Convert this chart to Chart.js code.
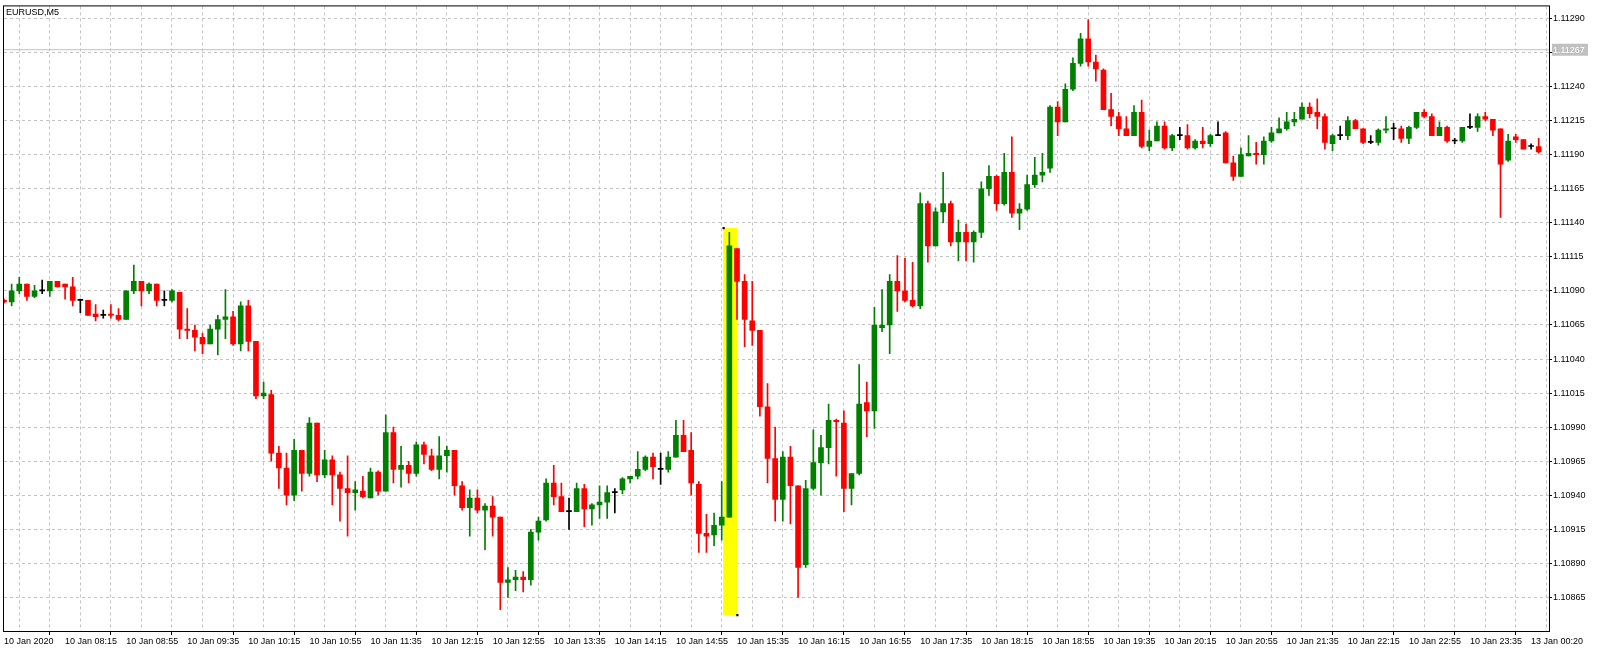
<!DOCTYPE html>
<html><head><meta charset="utf-8">
<script src="https://cdn.jsdelivr.net/npm/chart.js@4.4.0/dist/chart.umd.min.js"></script>
<style>html,body{margin:0;padding:0;background:#fff}#wrap{width:1600px;height:651px}</style>
</head><body><div id="wrap"><canvas id="c"></canvas></div>
<script>
const symbol = "EURUSD,M5";
const opens = [1.11083,1.11082,1.11090,1.11095,1.11086,1.11090,1.11090,1.11097,1.11095,1.11093,
1.11083,1.11083,1.11073,1.11072,1.11073,1.11072,1.11069,1.11090,1.11097,1.11090,
1.11095,1.11083,1.11083,1.11089,1.11062,1.11061,1.11056,1.11051,1.11062,1.11069,
1.11071,1.11051,1.11079,1.11053,1.11013,1.11014,1.10971,1.10960,1.10940,1.10973,
1.10956,1.10993,1.10955,1.10966,1.10955,1.10945,1.10942,1.10943,1.10938,1.10957,
1.10943,1.10986,1.10959,1.10962,1.10956,1.10977,1.10969,1.10959,1.10969,1.10973,
1.10947,1.10931,1.10938,1.10929,1.10932,1.10924,1.10876,1.10878,1.10880,1.10878,
1.10913,1.10922,1.10949,1.10939,1.10928,1.10928,1.10945,1.10930,1.10933,1.10935,
1.10942,1.10944,1.10952,1.10954,1.10959,1.10968,1.10959,1.10959,1.10968,1.10984,
1.10973,1.10948,1.10912,1.10911,1.10918,1.10924,1.11121,1.11097,1.11068,1.11061,
1.11005,1.10967,1.10937,1.10968,1.10947,1.10889,1.10945,1.10964,1.10975,1.10995,
1.10993,1.10945,1.10956,1.11008,1.11002,1.11063,1.11065,1.11097,1.11090,1.11083,
1.11079,1.11154,1.11123,1.11148,1.11154,1.11126,1.11133,1.11126,1.11133,1.11165,
1.11174,1.11154,1.11177,1.11147,1.11150,1.11168,1.11175,1.11180,1.11225,1.11214,
1.11238,1.11257,1.11275,1.11258,1.11252,1.11223,1.11218,1.11209,1.11204,1.11221,
1.11196,1.11200,1.11211,1.11195,1.11204,1.11204,1.11195,1.11200,1.11198,1.11204,
1.11206,1.11184,1.11174,1.11189,1.11191,1.11190,1.11200,1.11206,1.11209,1.11214,
1.11216,1.11225,1.11221,1.11218,1.11198,1.11204,1.11204,1.11215,1.11209,1.11199,
1.11199,1.11208,1.11209,1.11209,1.11202,1.11210,1.11221,1.11218,1.11204,1.11210,
1.11200,1.11200,1.11210,1.11210,1.11218,1.11216,1.11209,1.11186,1.11203,1.11201,
1.11196,1.11196];
const highs = [1.11084,1.11095,1.11100,1.11095,1.11094,1.11098,1.11097,1.11097,1.11095,1.11100,
1.11084,1.11083,1.11080,1.11076,1.11080,1.11077,1.11090,1.11109,1.11097,1.11096,
1.11095,1.11090,1.11091,1.11089,1.11077,1.11065,1.11059,1.11065,1.11072,1.11091,
1.11075,1.11082,1.11083,1.11053,1.11023,1.11017,1.10976,1.10971,1.10981,1.10973,
1.10997,1.10993,1.10973,1.10969,1.10957,1.10969,1.10950,1.10954,1.10960,1.10958,
1.10999,1.10990,1.10976,1.10965,1.10979,1.10979,1.10974,1.10983,1.10976,1.10973,
1.10950,1.10944,1.10944,1.10934,1.10939,1.10924,1.10887,1.10885,1.10884,1.10915,
1.10924,1.10952,1.10962,1.10949,1.10938,1.10949,1.10948,1.10934,1.10947,1.10947,
1.10945,1.10953,1.10954,1.10972,1.10969,1.10971,1.10971,1.10972,1.10995,1.10995,
1.10986,1.10950,1.10926,1.10927,1.10950,1.11133,1.11121,1.11102,1.11097,1.11061,
1.11022,1.10990,1.10972,1.10976,1.10947,1.10951,1.10988,1.10984,1.11007,1.10996,
1.11002,1.10956,1.11036,1.11023,1.11078,1.11091,1.11102,1.11116,1.11114,1.11111,
1.11162,1.11156,1.11151,1.11177,1.11156,1.11142,1.11139,1.11134,1.11170,1.11182,
1.11175,1.11191,1.11203,1.11154,1.11175,1.11188,1.11191,1.11226,1.11229,1.11242,
1.11261,1.11279,1.11289,1.11263,1.11253,1.11235,1.11221,1.11218,1.11226,1.11230,
1.11208,1.11214,1.11214,1.11205,1.11210,1.11212,1.11201,1.11210,1.11205,1.11214,
1.11207,1.11189,1.11195,1.11204,1.11199,1.11203,1.11210,1.11217,1.11221,1.11221,
1.11228,1.11228,1.11231,1.11220,1.11205,1.11211,1.11218,1.11216,1.11209,1.11204,
1.11209,1.11218,1.11213,1.11211,1.11211,1.11221,1.11223,1.11220,1.11214,1.11211,
1.11202,1.11210,1.11220,1.11220,1.11221,1.11216,1.11209,1.11205,1.11205,1.11201,
1.11198,1.11202];
const lows = [1.11081,1.11079,1.11088,1.11083,1.11085,1.11088,1.11086,1.11093,1.11084,1.11079,
1.11074,1.11072,1.11068,1.11070,1.11070,1.11068,1.11069,1.11088,1.11079,1.11088,
1.11079,1.11079,1.11082,1.11055,1.11055,1.11046,1.11044,1.11051,1.11043,1.11055,
1.11050,1.11046,1.11046,1.11011,1.11011,1.10965,1.10945,1.10933,1.10936,1.10943,
1.10954,1.10950,1.10953,1.10933,1.10921,1.10910,1.10929,1.10938,1.10938,1.10940,
1.10943,1.10949,1.10946,1.10949,1.10954,1.10963,1.10958,1.10952,1.10957,1.10940,
1.10929,1.10910,1.10927,1.10900,1.10910,1.10856,1.10865,1.10870,1.10869,1.10874,
1.10907,1.10921,1.10933,1.10928,1.10915,1.10928,1.10917,1.10918,1.10923,1.10923,
1.10927,1.10941,1.10949,1.10952,1.10958,1.10952,1.10948,1.10957,1.10968,1.10972,
1.10940,1.10898,1.10898,1.10903,1.10907,1.10924,1.11069,1.11049,1.11050,1.10998,
1.10949,1.10921,1.10921,1.10919,1.10865,1.10887,1.10944,1.10940,1.10963,1.10954,
1.10928,1.10933,1.10955,1.10983,1.10989,1.11060,1.11044,1.11075,1.11082,1.11078,
1.11077,1.11111,1.11123,1.11140,1.11123,1.11112,1.11112,1.11111,1.11129,1.11160,
1.11149,1.11153,1.11144,1.11135,1.11149,1.11166,1.11170,1.11177,1.11204,1.11214,
1.11237,1.11255,1.11255,1.11244,1.11223,1.11211,1.11204,1.11204,1.11204,1.11195,
1.11193,1.11200,1.11194,1.11193,1.11201,1.11194,1.11194,1.11195,1.11196,1.11204,
1.11184,1.11171,1.11174,1.11189,1.11183,1.11183,1.11199,1.11206,1.11208,1.11211,
1.11216,1.11217,1.11209,1.11194,1.11193,1.11201,1.11201,1.11209,1.11198,1.11198,
1.11197,1.11206,1.11201,1.11199,1.11198,1.11209,1.11217,1.11204,1.11204,1.11199,
1.11198,1.11199,1.11209,1.11207,1.11215,1.11204,1.11144,1.11185,1.11199,1.11194,
1.11194,1.11191];
const closes = [1.11082,1.11090,1.11095,1.11086,1.11090,1.11090,1.11097,1.11093,1.11093,1.11083,
1.11083,1.11072,1.11071,1.11072,1.11072,1.11069,1.11090,1.11097,1.11090,1.11095,
1.11083,1.11083,1.11090,1.11062,1.11061,1.11056,1.11051,1.11062,1.11069,1.11071,
1.11051,1.11079,1.11053,1.11013,1.11015,1.10971,1.10960,1.10940,1.10973,1.10956,
1.10993,1.10955,1.10966,1.10955,1.10945,1.10942,1.10944,1.10939,1.10957,1.10943,
1.10986,1.10959,1.10962,1.10956,1.10977,1.10970,1.10959,1.10969,1.10973,1.10947,
1.10931,1.10938,1.10929,1.10932,1.10924,1.10876,1.10878,1.10880,1.10878,1.10913,
1.10921,1.10949,1.10939,1.10928,1.10928,1.10945,1.10930,1.10933,1.10935,1.10942,
1.10942,1.10952,1.10954,1.10959,1.10968,1.10961,1.10959,1.10968,1.10984,1.10972,
1.10949,1.10912,1.10910,1.10918,1.10924,1.11123,1.11097,1.11069,1.11061,1.11005,
1.10967,1.10937,1.10968,1.10947,1.10887,1.10945,1.10964,1.10975,1.10995,1.10994,
1.10945,1.10956,1.11007,1.11002,1.11065,1.11065,1.11097,1.11090,1.11083,1.11079,
1.11154,1.11123,1.11148,1.11154,1.11126,1.11133,1.11126,1.11133,1.11165,1.11174,
1.11154,1.11177,1.11147,1.11150,1.11168,1.11175,1.11177,1.11225,1.11214,1.11238,
1.11257,1.11275,1.11258,1.11253,1.11223,1.11218,1.11209,1.11204,1.11221,1.11196,
1.11200,1.11211,1.11195,1.11204,1.11204,1.11195,1.11200,1.11198,1.11204,1.11204,
1.11184,1.11174,1.11190,1.11191,1.11190,1.11200,1.11206,1.11209,1.11214,1.11216,
1.11225,1.11220,1.11218,1.11199,1.11204,1.11204,1.11215,1.11209,1.11199,1.11199,
1.11208,1.11209,1.11209,1.11202,1.11210,1.11221,1.11218,1.11204,1.11210,1.11200,
1.11200,1.11210,1.11210,1.11218,1.11216,1.11208,1.11183,1.11200,1.11201,1.11194,
1.11196,1.11192];
const xTickLabels = ["10 Jan 2020","10 Jan 08:15","10 Jan 08:55","10 Jan 09:35","10 Jan 10:15","10 Jan 10:55","10 Jan 11:35","10 Jan 12:15","10 Jan 12:55","10 Jan 13:35","10 Jan 14:15","10 Jan 14:55","10 Jan 15:35","10 Jan 16:15","10 Jan 16:55","10 Jan 17:35","10 Jan 18:15","10 Jan 18:55","10 Jan 19:35","10 Jan 20:15","10 Jan 20:55","10 Jan 21:35","10 Jan 22:15","10 Jan 22:55","10 Jan 23:35","13 Jan 00:20"];
const yTickValues = [1.10865,1.10890,1.10915,1.10940,1.10965,1.10990,1.11015,1.11040,1.11065,1.11090,1.11115,1.11140,1.11165,1.11190,1.11215,1.11240,1.11265,1.11290];
const currentPrice = 1.11267;
const highlightIndex = 95.15;
const highlightRange = [1.10852, 1.11136];
const highlightCorners = [{x:94.25,y:1.11136},{x:96.05,y:1.10852}];

const GREEN='#008000', RED='#ff0000', BLACK='#000000';
const col = opens.map((o,i)=> closes[i]>o?GREEN:(closes[i]<o?RED:BLACK));
const wickData = opens.map((o,i)=>({x:i,y:[lows[i],highs[i]]}));
const bodyData = opens.map((o,i)=>({x:i,y:[Math.min(o,closes[i]),Math.max(o,closes[i])]}));
const XMAX = 202.35, YMIN = 1.108404, YMAX = 1.112988;

const framePlugin = {
  id:'frame',
  afterDraw(chart){
    const {ctx, chartArea:a, scales} = chart;
    ctx.save();
    ctx.strokeStyle='#000'; ctx.lineWidth=1;
    ctx.strokeRect(a.left-0.5, a.top-0.5, a.right-a.left+1, a.bottom-a.top+1);
    ctx.fillStyle='#000'; ctx.font='9px "Liberation Sans"'; ctx.textBaseline='top'; ctx.textAlign='left';
    ctx.fillText(symbol, a.left+2, a.top+2);
    const py = scales.y.getPixelForValue(currentPrice);
    ctx.fillStyle='#c0c0c0';
    ctx.fillRect(a.right+3, py-6, 36, 12);
    ctx.fillStyle='#ffffff'; ctx.textBaseline='middle';
    ctx.fillText(currentPrice.toFixed(5), a.right+4, py+0.5);
    ctx.restore();
  }
};

new Chart(document.getElementById('c'), {
  type:'bar',
  data:{datasets:[
    {type:'line', data:[{x:0,y:currentPrice},{x:XMAX,y:currentPrice}], borderColor:'#c0c0c0', borderWidth:1, pointRadius:0, order:6},
    {data:[{x:highlightIndex,y:highlightRange}], backgroundColor:'#ffff00', barThickness:14, grouped:false, order:5},
    {type:'scatter', data:highlightCorners, pointStyle:'rect', pointRadius:1.6, backgroundColor:'#000', borderWidth:0, order:0},
    {data:wickData, backgroundColor:col, barThickness:1, grouped:false, order:3},
    {data:bodyData, backgroundColor:col, barThickness:5, grouped:false, minBarLength:1, order:2}
  ]},
  options:{
    responsive:true, maintainAspectRatio:false, animation:false,
    layout:{padding:{left:3,top:3,right:0,bottom:0}},
    plugins:{legend:{display:false}, tooltip:{enabled:false}},
    scales:{
      x:{type:'linear', min:0, max:XMAX, offset:false,
        afterBuildTicks(s){ const t=[]; for(let v=0; v<=200; v+=4) t.push({value:v}); s.ticks=t; },
        afterFit(s){ s.height=20; },
        ticks:{autoSkip:false, maxRotation:0, align:'start', padding:1, color:'#000',
          font:{family:'Liberation Sans', size:9},
          callback:(v)=> v%8===0 ? xTickLabels[v/8] : ''},
        grid:{color:(c)=> c.tick && c.tick.value===0 ? 'rgba(0,0,0,0)' : '#c4c4c4',
          tickColor:(c)=> c.tick && c.tick.value%8===0 ? '#000' : 'rgba(0,0,0,0)', tickLength:4, lineWidth:1},
        border:{display:false, dash:[3,3]}
      },
      y:{type:'linear', position:'right', min:YMIN, max:YMAX,
        afterBuildTicks(s){ s.ticks = yTickValues.map(v=>({value:v})); },
        afterFit(s){ s.width=51; },
        ticks:{padding:1, color:'#000', font:{family:'Liberation Sans', size:9}, callback:(v)=>v.toFixed(5)},
        grid:{color:'#c4c4c4', tickColor:'#000', tickLength:3, lineWidth:1},
        border:{display:false, dash:[3,3]}
      }
    }
  },
  plugins:[framePlugin]
});
</script></body></html>
